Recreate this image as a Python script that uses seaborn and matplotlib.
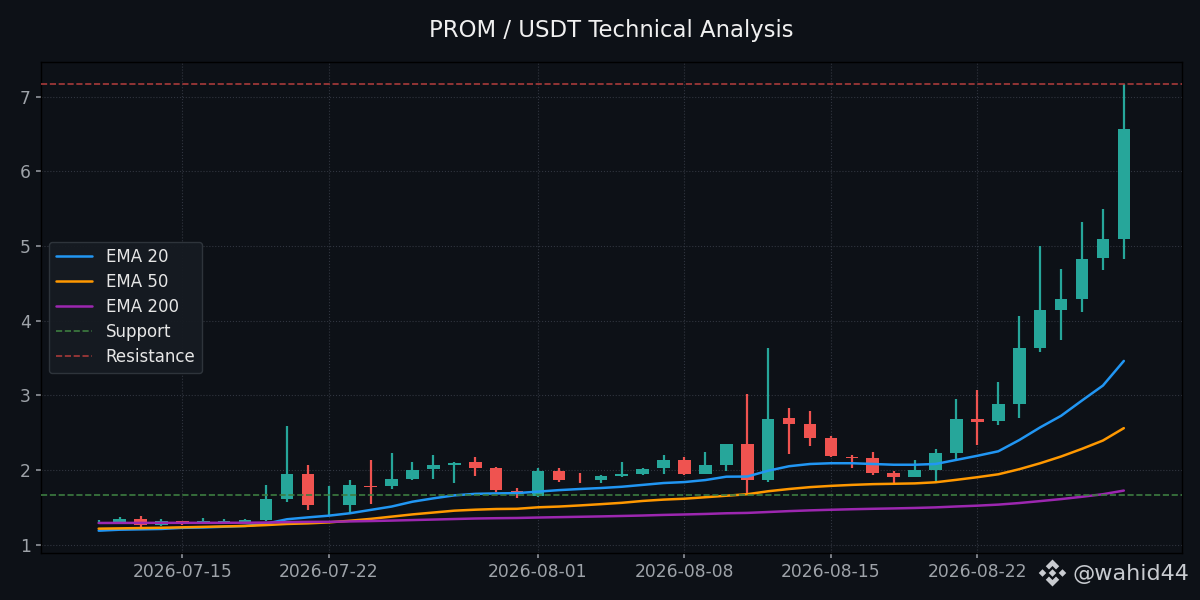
import numpy as np
import pandas as pd
import matplotlib
matplotlib.use("Agg")
import matplotlib.pyplot as plt
import matplotlib.dates as mdates
from matplotlib.patches import Polygon
from matplotlib.transforms import IdentityTransform
import seaborn as sns

# ---------------- data ----------------
start_date = "2026-07-11"
n_days = 50
dates = pd.date_range(start_date, periods=n_days, freq="D")

opens = [1.30, 1.30, 1.35, 1.26, 1.32, 1.30, 1.30, 1.30, 1.33, 1.61,
         1.95, 1.39, 1.53, 1.79, 1.78, 1.88, 2.01, 2.06, 2.10, 2.02,
         1.72, 1.65, 1.98, 1.875, 1.86, 1.92, 1.94, 2.02, 2.13, 1.95,
         2.07, 2.35, 1.87, 2.70, 2.62, 2.43, 2.18, 2.16, 1.96, 1.91,
         2.00, 2.23, 2.68, 2.65, 2.88, 3.63, 4.14, 4.29, 4.84, 5.09]
highs = [1.33, 1.37, 1.39, 1.35, 1.32, 1.36, 1.34, 1.34, 1.80, 2.59,
         2.07, 1.79, 1.86, 2.13, 2.23, 2.11, 2.20, 2.10, 2.18, 2.04,
         1.76, 2.02, 2.02, 1.96, 1.93, 2.11, 2.03, 2.20, 2.17, 2.24,
         2.35, 3.02, 3.63, 2.83, 2.79, 2.46, 2.20, 2.24, 1.98, 2.13,
         2.28, 2.95, 3.07, 3.18, 4.06, 5.00, 4.69, 5.32, 5.50, 7.17]
lows = [1.28, 1.30, 1.23, 1.25, 1.26, 1.30, 1.30, 1.30, 1.32, 1.57,
        1.47, 1.38, 1.43, 1.55, 1.75, 1.87, 1.88, 1.83, 1.92, 1.70,
        1.63, 1.64, 1.84, 1.83, 1.82, 1.90, 1.93, 1.95, 1.93, 1.94,
        1.99, 1.67, 1.84, 2.22, 2.32, 2.18, 2.03, 1.93, 1.81, 1.90,
        1.84, 2.15, 2.34, 2.60, 2.70, 3.58, 3.74, 4.11, 4.68, 4.82]
closes = [1.305, 1.35, 1.26, 1.32, 1.30, 1.31, 1.31, 1.33, 1.61, 1.95,
          1.53, 1.40, 1.80, 1.77, 1.88, 2.00, 2.07, 2.09, 2.02, 1.73,
          1.68, 1.98, 1.87, 1.875, 1.92, 1.94, 2.01, 2.13, 1.95, 2.07,
          2.35, 1.87, 2.68, 2.62, 2.43, 2.19, 2.165, 1.96, 1.91, 2.00,
          2.23, 2.68, 2.645, 2.88, 3.63, 4.14, 4.29, 4.83, 5.09, 6.57]

ema20 = [1.187, 1.200, 1.205, 1.210, 1.225, 1.230, 1.240, 1.250, 1.280, 1.340,
         1.365, 1.388, 1.420, 1.465, 1.510, 1.575, 1.620, 1.660, 1.680, 1.686,
         1.690, 1.710, 1.730, 1.745, 1.758, 1.775, 1.800, 1.825, 1.838, 1.865,
         1.910, 1.912, 1.990, 2.050, 2.080, 2.090, 2.090, 2.080, 2.070, 2.070,
         2.080, 2.135, 2.190, 2.250, 2.400, 2.570, 2.725, 2.930, 3.130, 3.460]
ema50 = [1.214, 1.218, 1.222, 1.226, 1.232, 1.238, 1.244, 1.250, 1.262, 1.277,
         1.285, 1.298, 1.320, 1.345, 1.375, 1.405, 1.430, 1.455, 1.468, 1.477,
         1.480, 1.500, 1.510, 1.525, 1.542, 1.560, 1.585, 1.603, 1.615, 1.635,
         1.655, 1.675, 1.715, 1.745, 1.770, 1.787, 1.800, 1.810, 1.815, 1.820,
         1.835, 1.868, 1.903, 1.942, 2.010, 2.090, 2.180, 2.283, 2.394, 2.560]
ema200 = [1.290, 1.291, 1.291, 1.292, 1.292, 1.292, 1.293, 1.293, 1.296, 1.302,
          1.305, 1.306, 1.311, 1.316, 1.322, 1.329, 1.336, 1.343, 1.350, 1.354,
          1.357, 1.363, 1.368, 1.373, 1.378, 1.384, 1.390, 1.398, 1.404, 1.411,
          1.420, 1.425, 1.437, 1.449, 1.459, 1.467, 1.474, 1.480, 1.485, 1.491,
          1.499, 1.511, 1.522, 1.536, 1.557, 1.583, 1.610, 1.641, 1.675, 1.724]

support_level = 1.66
resistance_level = 7.17

title_text = "PROM / USDT Technical Analysis"
watermark_text = "@wahid44"

# ---------------- style ----------------
BG = "#0d1117"
UP = "#26a69a"
DOWN = "#ef5350"
TICK = "#9ea3a9"

sns.set_theme(style="dark")
plt.rcParams["font.family"] = ["DejaVu Sans"]
plt.rcParams.update({
    "figure.facecolor": BG,
    "axes.facecolor": BG,
    "savefig.facecolor": BG,
    "axes.edgecolor": "#000000",
    "axes.linewidth": 1.0,
    "xtick.color": "#8b8f96",
    "ytick.color": "#8b8f96",
    "xtick.labelcolor": TICK,
    "ytick.labelcolor": TICK,
    "xtick.labelsize": 12.3,
    "ytick.labelsize": 12.3,
    "xtick.bottom": True,
    "ytick.left": True,
    "xtick.major.size": 3.5,
    "ytick.major.size": 3.5,
})

df = pd.DataFrame({"date": dates, "open": opens, "high": highs,
                   "low": lows, "close": closes,
                   "ema20": ema20, "ema50": ema50, "ema200": ema200})

fig = plt.figure(figsize=(12, 6), dpi=100)
ax = fig.add_axes([0.03375, 0.0783, 0.985 - 0.03375, 0.8975 - 0.0783])
ax.set_facecolor(BG)

up_mask = df["close"] > df["open"]
colors = np.where(up_mask, UP, DOWN)
body_bottom = np.minimum(df["open"], df["close"])
body_height = np.abs(df["close"] - df["open"])

ax.vlines(df["date"], df["low"], df["high"], colors=colors, linewidth=1.6, zorder=2)
ax.bar(df["date"], body_height, bottom=body_bottom, width=0.6,
       color=colors, linewidth=0, zorder=2.1)

sns.lineplot(data=df, x="date", y="ema20", ax=ax, color="#2196f3",
             linewidth=1.8, label="EMA 20", zorder=3)
sns.lineplot(data=df, x="date", y="ema50", ax=ax, color="#ff9800",
             linewidth=1.8, label="EMA 50", zorder=3)
sns.lineplot(data=df, x="date", y="ema200", ax=ax, color="#9c27b0",
             linewidth=1.8, label="EMA 200", zorder=3)

ax.axhline(support_level, color="#3d7d40", linestyle="--", linewidth=1.2,
           label="Support", zorder=3)
ax.axhline(resistance_level, color="#a83a3a", linestyle="--", linewidth=1.2,
           label="Resistance", zorder=3)

ax.set_xlabel("")
ax.set_ylabel("")
ax.grid(True, linestyle=":", color="#3a3f4a", linewidth=0.8, alpha=0.8, zorder=0)
ax.set_axisbelow(True)

loc = mdates.AutoDateLocator()
ax.xaxis.set_major_locator(loc)
ax.xaxis.set_major_formatter(mdates.DateFormatter("%Y-%m-%d"))
for s in ax.spines.values():
    s.set_color("#000000")
    s.set_visible(True)

ax.set_title(title_text, color="#f0f0f0", fontsize=16.4, pad=18)

leg = ax.legend(loc="center left", fontsize=12, frameon=True,
                facecolor="#161b22", edgecolor="#30363d", framealpha=0.95,
                labelcolor="#e6e6e6", handlelength=2.2, labelspacing=0.42)
leg.get_frame().set_linewidth(1.0)

# watermark text + logo
fig.text(1072 / 1200, 1 - 574 / 600, watermark_text, color="#c8cbd0",
         fontsize=16, ha="left", va="center")

cx, cy, s = 1052.5, 600 - 573.0, 13.5
def add_poly(pts):
    p = Polygon([(cx + s * x, cy + s * y) for x, y in pts], closed=True,
                facecolor="#c8cbd0", edgecolor="none",
                transform=IdentityTransform())
    fig.add_artist(p)

d = 0.28
add_poly([(0, d), (d, 0), (0, -d), (-d, 0)])
add_poly([(-0.74, d), (-0.74 + d, 0), (-0.74, -d), (-0.74 - d, 0)])
add_poly([(0.74, d), (0.74 + d, 0), (0.74, -d), (0.74 - d, 0)])
chev = [(0, 1.0), (0.5, 0.5), (0.26, 0.26), (0, 0.52), (-0.26, 0.26), (-0.5, 0.5)]
add_poly(chev)
add_poly([(x, -y) for x, y in chev])

fig.savefig("out.png", dpi=100, facecolor=BG)
